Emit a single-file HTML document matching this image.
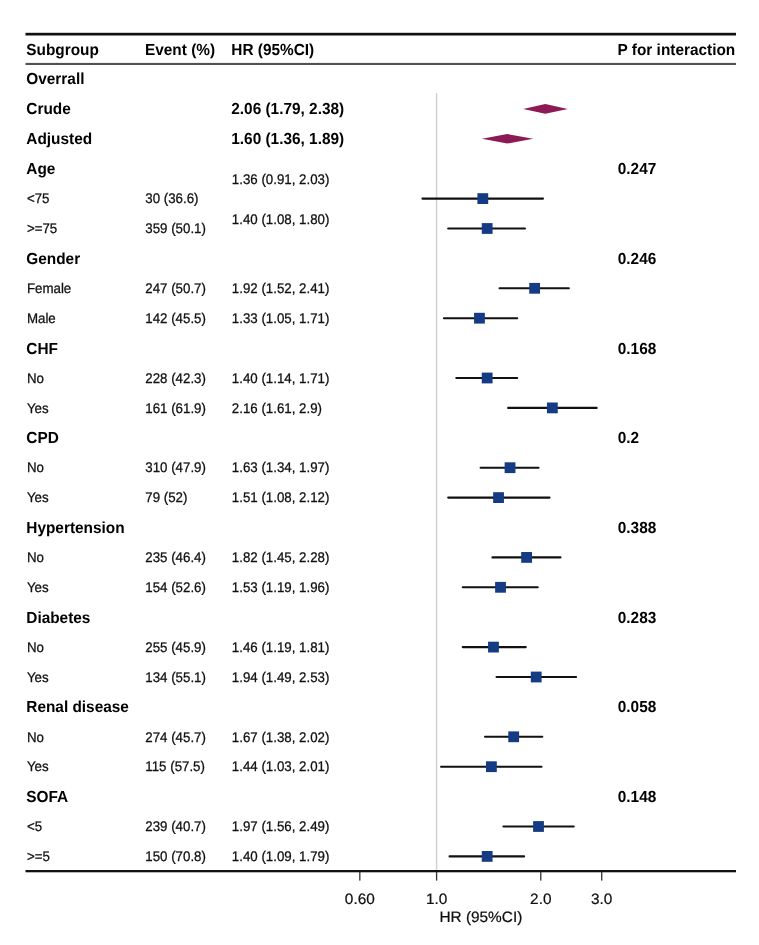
<!DOCTYPE html><html><head><meta charset="utf-8"><style>html,body{margin:0;padding:0;background:#fff;}svg{display:block;will-change:transform;}text{font-family:"Liberation Sans",sans-serif;fill:#111;text-rendering:geometricPrecision;}.b{font-weight:bold;font-size:16px;fill:#000;}.r{font-size:14px;stroke:#000;stroke-width:0.25px;}.a{font-size:15px;stroke:#000;stroke-width:0.2px;}</style></head><body>
<svg width="759" height="945" viewBox="0 0 759 945">
<rect x="25.5" y="32.8" width="710.5" height="2.7" fill="#111"/>
<rect x="25.5" y="62.9" width="710.5" height="2.1" fill="#525252"/>
<rect x="25.5" y="870.0" width="710.5" height="2.3" fill="#111"/>
<rect x="435.9" y="93.2" width="1.4" height="776.6" fill="#cfcfcf"/>
<text class="b" transform="translate(26.30,54.77) scale(0.9609374999999999,1)">Subgroup</text>
<text class="b" transform="translate(145.00,54.77) scale(0.9609374999999999,1)">Event (%)</text>
<text class="b" transform="translate(231.30,54.77) scale(0.9609374999999999,1)">HR (95%CI)</text>
<text class="b" transform="translate(617.60,54.77) scale(0.9609374999999999,1)">P for interaction</text>
<text class="b" transform="translate(26.30,84.40) scale(0.9609374999999999,1)">Overrall</text>
<text class="b" transform="translate(26.30,114.30) scale(0.9609374999999999,1)">Crude</text>
<text class="b" transform="translate(231.30,114.30) scale(0.9609374999999999,1)">2.06 (1.79, 2.38)</text>
<polygon points="523.21,108.90 545.22,104.10 567.83,108.90 545.22,113.70" fill="#8c1a55"/>
<text class="b" transform="translate(26.30,144.20) scale(0.9609374999999999,1)">Adjusted</text>
<text class="b" transform="translate(231.30,144.20) scale(0.9609374999999999,1)">1.60 (1.36, 1.89)</text>
<polygon points="481.91,138.80 507.24,134.00 533.18,138.80 507.24,143.60" fill="#8c1a55"/>
<text class="b" transform="translate(26.30,174.10) scale(0.9609374999999999,1)">Age</text>
<text class="r" transform="translate(231.80,184.11) scale(0.95,1)">1.36 (0.91, 2.03)</text>
<text class="b" transform="translate(617.80,174.10) scale(0.9609374999999999,1)">0.247</text>
<text class="r" transform="translate(26.90,203.31) scale(0.95,1)">&lt;75</text>
<text class="r" transform="translate(145.30,203.31) scale(0.95,1)">30 (36.6)</text>
<line x1="422.43" y1="198.60" x2="543.02" y2="198.60" stroke="#111" stroke-width="2.1" stroke-linecap="round"/>
<rect x="477.41" y="193.20" width="10.8" height="10.8" fill="#143b84"/>
<text class="r" transform="translate(26.90,233.21) scale(0.95,1)">&gt;=75</text>
<text class="r" transform="translate(145.30,233.21) scale(0.95,1)">359 (50.1)</text>
<text class="r" transform="translate(231.80,223.51) scale(0.95,1)">1.40 (1.08, 1.80)</text>
<line x1="448.17" y1="228.50" x2="524.94" y2="228.50" stroke="#111" stroke-width="2.1" stroke-linecap="round"/>
<rect x="481.77" y="223.10" width="10.8" height="10.8" fill="#143b84"/>
<text class="b" transform="translate(26.30,263.80) scale(0.9609374999999999,1)">Gender</text>
<text class="b" transform="translate(617.80,263.80) scale(0.9609374999999999,1)">0.246</text>
<text class="r" transform="translate(26.90,293.01) scale(0.95,1)">Female</text>
<text class="r" transform="translate(145.30,293.01) scale(0.95,1)">247 (50.7)</text>
<text class="r" transform="translate(231.80,293.01) scale(0.95,1)">1.92 (1.52, 2.41)</text>
<line x1="499.53" y1="288.30" x2="568.81" y2="288.30" stroke="#111" stroke-width="2.1" stroke-linecap="round"/>
<rect x="529.24" y="282.90" width="10.8" height="10.8" fill="#143b84"/>
<text class="r" transform="translate(26.90,322.91) scale(0.95,1)">Male</text>
<text class="r" transform="translate(145.30,322.91) scale(0.95,1)">142 (45.5)</text>
<text class="r" transform="translate(231.80,322.91) scale(0.95,1)">1.33 (1.05, 1.71)</text>
<line x1="443.93" y1="318.20" x2="517.23" y2="318.20" stroke="#111" stroke-width="2.1" stroke-linecap="round"/>
<rect x="474.06" y="312.80" width="10.8" height="10.8" fill="#143b84"/>
<text class="b" transform="translate(26.30,353.50) scale(0.9609374999999999,1)">CHF</text>
<text class="b" transform="translate(617.80,353.50) scale(0.9609374999999999,1)">0.168</text>
<text class="r" transform="translate(26.90,382.71) scale(0.95,1)">No</text>
<text class="r" transform="translate(145.30,382.71) scale(0.95,1)">228 (42.3)</text>
<text class="r" transform="translate(231.80,382.71) scale(0.95,1)">1.40 (1.14, 1.71)</text>
<line x1="456.29" y1="378.00" x2="517.23" y2="378.00" stroke="#111" stroke-width="2.1" stroke-linecap="round"/>
<rect x="481.77" y="372.60" width="10.8" height="10.8" fill="#143b84"/>
<text class="r" transform="translate(26.90,412.61) scale(0.95,1)">Yes</text>
<text class="r" transform="translate(145.30,412.61) scale(0.95,1)">161 (61.9)</text>
<text class="r" transform="translate(231.80,412.61) scale(0.95,1)">2.16 (1.61, 2.9)</text>
<line x1="508.18" y1="407.90" x2="596.63" y2="407.90" stroke="#111" stroke-width="2.1" stroke-linecap="round"/>
<rect x="546.95" y="402.50" width="10.8" height="10.8" fill="#143b84"/>
<text class="b" transform="translate(26.30,443.20) scale(0.9609374999999999,1)">CPD</text>
<text class="b" transform="translate(617.80,443.20) scale(0.9609374999999999,1)">0.2</text>
<text class="r" transform="translate(26.90,472.41) scale(0.95,1)">No</text>
<text class="r" transform="translate(145.30,472.41) scale(0.95,1)">310 (47.9)</text>
<text class="r" transform="translate(231.80,472.41) scale(0.95,1)">1.63 (1.34, 1.97)</text>
<line x1="480.59" y1="467.70" x2="538.51" y2="467.70" stroke="#111" stroke-width="2.1" stroke-linecap="round"/>
<rect x="504.63" y="462.30" width="10.8" height="10.8" fill="#143b84"/>
<text class="r" transform="translate(26.90,502.31) scale(0.95,1)">Yes</text>
<text class="r" transform="translate(145.30,502.31) scale(0.95,1)">79 (52)</text>
<text class="r" transform="translate(231.80,502.31) scale(0.95,1)">1.51 (1.08, 2.12)</text>
<line x1="448.17" y1="497.60" x2="549.54" y2="497.60" stroke="#111" stroke-width="2.1" stroke-linecap="round"/>
<rect x="493.14" y="492.20" width="10.8" height="10.8" fill="#143b84"/>
<text class="b" transform="translate(26.30,532.90) scale(0.9609374999999999,1)">Hypertension</text>
<text class="b" transform="translate(617.80,532.90) scale(0.9609374999999999,1)">0.388</text>
<text class="r" transform="translate(26.90,562.11) scale(0.95,1)">No</text>
<text class="r" transform="translate(145.30,562.11) scale(0.95,1)">235 (46.4)</text>
<text class="r" transform="translate(231.80,562.11) scale(0.95,1)">1.82 (1.45, 2.28)</text>
<line x1="492.45" y1="557.40" x2="560.47" y2="557.40" stroke="#111" stroke-width="2.1" stroke-linecap="round"/>
<rect x="521.21" y="552.00" width="10.8" height="10.8" fill="#143b84"/>
<text class="r" transform="translate(26.90,592.01) scale(0.95,1)">Yes</text>
<text class="r" transform="translate(145.30,592.01) scale(0.95,1)">154 (52.6)</text>
<text class="r" transform="translate(231.80,592.01) scale(0.95,1)">1.53 (1.19, 1.96)</text>
<line x1="462.75" y1="587.30" x2="537.74" y2="587.30" stroke="#111" stroke-width="2.1" stroke-linecap="round"/>
<rect x="495.12" y="581.90" width="10.8" height="10.8" fill="#143b84"/>
<text class="b" transform="translate(26.30,622.60) scale(0.9609374999999999,1)">Diabetes</text>
<text class="b" transform="translate(617.80,622.60) scale(0.9609374999999999,1)">0.283</text>
<text class="r" transform="translate(26.90,651.81) scale(0.95,1)">No</text>
<text class="r" transform="translate(145.30,651.81) scale(0.95,1)">255 (45.9)</text>
<text class="r" transform="translate(231.80,651.81) scale(0.95,1)">1.46 (1.19, 1.81)</text>
<line x1="462.75" y1="647.10" x2="525.78" y2="647.10" stroke="#111" stroke-width="2.1" stroke-linecap="round"/>
<rect x="488.08" y="641.70" width="10.8" height="10.8" fill="#143b84"/>
<text class="r" transform="translate(26.90,681.71) scale(0.95,1)">Yes</text>
<text class="r" transform="translate(145.30,681.71) scale(0.95,1)">134 (55.1)</text>
<text class="r" transform="translate(231.80,681.71) scale(0.95,1)">1.94 (1.49, 2.53)</text>
<line x1="496.54" y1="677.00" x2="576.11" y2="677.00" stroke="#111" stroke-width="2.1" stroke-linecap="round"/>
<rect x="530.80" y="671.60" width="10.8" height="10.8" fill="#143b84"/>
<text class="b" transform="translate(26.30,712.30) scale(0.9609374999999999,1)">Renal disease</text>
<text class="b" transform="translate(617.80,712.30) scale(0.9609374999999999,1)">0.058</text>
<text class="r" transform="translate(26.90,741.51) scale(0.95,1)">No</text>
<text class="r" transform="translate(145.30,741.51) scale(0.95,1)">274 (45.7)</text>
<text class="r" transform="translate(231.80,741.51) scale(0.95,1)">1.67 (1.38, 2.02)</text>
<line x1="485.01" y1="736.80" x2="542.28" y2="736.80" stroke="#111" stroke-width="2.1" stroke-linecap="round"/>
<rect x="508.28" y="731.40" width="10.8" height="10.8" fill="#143b84"/>
<text class="r" transform="translate(26.90,771.41) scale(0.95,1)">Yes</text>
<text class="r" transform="translate(145.30,771.41) scale(0.95,1)">115 (57.5)</text>
<text class="r" transform="translate(231.80,771.41) scale(0.95,1)">1.44 (1.03, 2.01)</text>
<line x1="441.04" y1="766.70" x2="541.53" y2="766.70" stroke="#111" stroke-width="2.1" stroke-linecap="round"/>
<rect x="486.01" y="761.30" width="10.8" height="10.8" fill="#143b84"/>
<text class="b" transform="translate(26.30,802.00) scale(0.9609374999999999,1)">SOFA</text>
<text class="b" transform="translate(617.80,802.00) scale(0.9609374999999999,1)">0.148</text>
<text class="r" transform="translate(26.90,831.21) scale(0.95,1)">&lt;5</text>
<text class="r" transform="translate(145.30,831.21) scale(0.95,1)">239 (40.7)</text>
<text class="r" transform="translate(231.80,831.21) scale(0.95,1)">1.97 (1.56, 2.49)</text>
<line x1="503.44" y1="826.50" x2="573.72" y2="826.50" stroke="#111" stroke-width="2.1" stroke-linecap="round"/>
<rect x="533.11" y="821.10" width="10.8" height="10.8" fill="#143b84"/>
<text class="r" transform="translate(26.90,861.11) scale(0.95,1)">&gt;=5</text>
<text class="r" transform="translate(145.30,861.11) scale(0.95,1)">150 (70.8)</text>
<text class="r" transform="translate(231.80,861.11) scale(0.95,1)">1.40 (1.09, 1.79)</text>
<line x1="449.55" y1="856.40" x2="524.11" y2="856.40" stroke="#111" stroke-width="2.1" stroke-linecap="round"/>
<rect x="481.77" y="851.00" width="10.8" height="10.8" fill="#143b84"/>
<rect x="359.17" y="871.9" width="1.3" height="8.7" fill="#333"/>
<text class="a" transform="translate(359.82,903.50) scale(1.025,1)" text-anchor="middle">0.60</text>
<rect x="435.95" y="871.9" width="1.3" height="8.7" fill="#333"/>
<text class="a" transform="translate(436.60,903.50) scale(1.025,1)" text-anchor="middle">1.0</text>
<rect x="540.13" y="871.9" width="1.3" height="8.7" fill="#333"/>
<text class="a" transform="translate(540.78,903.50) scale(1.025,1)" text-anchor="middle">2.0</text>
<rect x="601.07" y="871.9" width="1.3" height="8.7" fill="#333"/>
<text class="a" transform="translate(601.72,903.50) scale(1.025,1)" text-anchor="middle">3.0</text>
<text class="a" transform="translate(480.85,921.80) scale(1.025,1)" text-anchor="middle">HR (95%CI)</text>
</svg></body></html>
